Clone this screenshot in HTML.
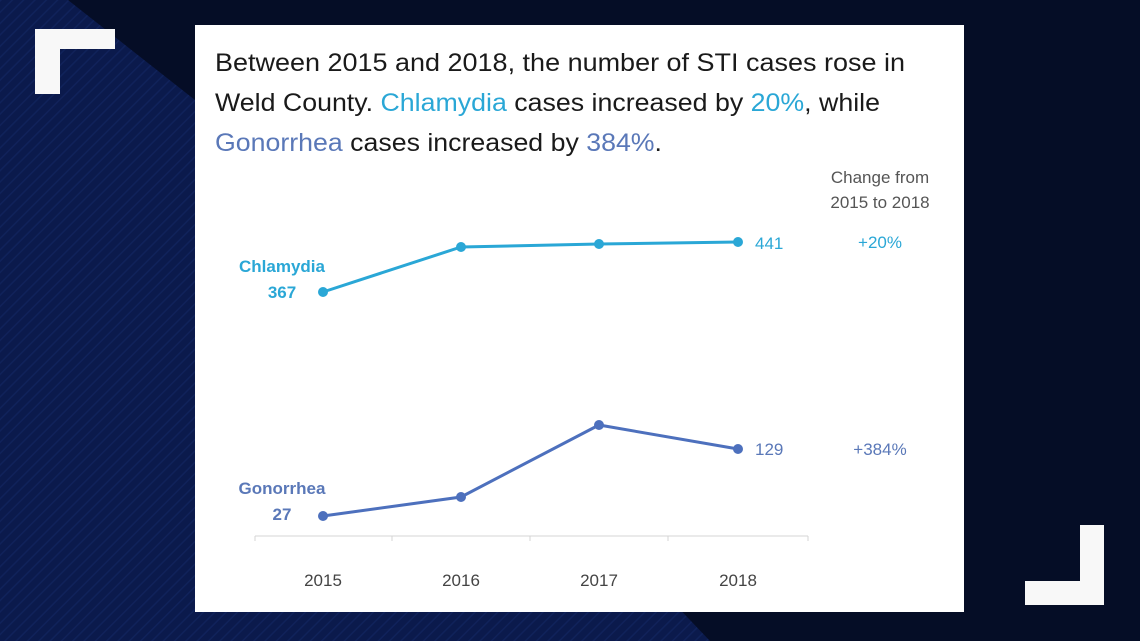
<!DOCTYPE html>
<html><head><meta charset="utf-8"><style>
html,body{margin:0;padding:0;width:1140px;height:641px;overflow:hidden;background:#050d26;}
</style></head><body>
<svg width="1140" height="641" viewBox="0 0 1140 641" xmlns="http://www.w3.org/2000/svg" style="display:block">
<defs>
<pattern id="st" width="8" height="8" patternUnits="userSpaceOnUse" patternTransform="rotate(45)">
<rect width="8" height="8" fill="#0b1a4c"/><rect width="1.5" height="8" fill="#10225a"/>
</pattern>
</defs>
<rect width="1140" height="641" fill="#050d26"/>
<polygon points="0,0 68,0 195,100 710,641 0,641" fill="url(#st)"/>
<polygon points="35,29 115,29 115,49 60,49 60,94 35,94" fill="#f8f8f8"/>
<polygon points="1080,525 1104,525 1104,605 1025,605 1025,581 1080,581" fill="#f8f8f8"/>
<rect x="195" y="25" width="769" height="587" fill="#fff"/>
<g font-family="'Liberation Sans',sans-serif" font-size="25" fill="#1a1a1a" lengthAdjust="spacingAndGlyphs">
<text x="215" y="71" textLength="690" lengthAdjust="spacingAndGlyphs">Between 2015 and 2018, the number of STI cases rose in</text>
<text x="215" y="111" textLength="665" lengthAdjust="spacingAndGlyphs">Weld County. <tspan fill="#2aa7d6">Chlamydia</tspan> cases increased by <tspan fill="#2aa7d6">20%</tspan>, while</text>
<text x="215" y="151" textLength="447" lengthAdjust="spacingAndGlyphs"><tspan fill="#5a78b8">Gonorrhea</tspan> cases increased by <tspan fill="#5a78b8">384%</tspan>.</text>
</g>
<g font-family="'Liberation Sans',sans-serif" font-size="17">
<text x="880" y="183" text-anchor="middle" fill="#555">Change from</text>
<text x="880" y="208" text-anchor="middle" fill="#555">2015 to 2018</text>
<text x="880" y="248" text-anchor="middle" fill="#2aa7d6">+20%</text>
<text x="880" y="455" text-anchor="middle" fill="#5a78b8">+384%</text>
<text x="282" y="272" text-anchor="middle" fill="#2aa7d6" font-weight="bold">Chlamydia</text>
<text x="282" y="298" text-anchor="middle" fill="#2aa7d6" font-weight="bold">367</text>
<text x="282" y="494" text-anchor="middle" fill="#5a78b8" font-weight="bold">Gonorrhea</text>
<text x="282" y="520" text-anchor="middle" fill="#5a78b8" font-weight="bold">27</text>
<text x="755" y="249" fill="#2aa7d6">441</text>
<text x="755" y="455" fill="#5a78b8">129</text>
<g fill="#444" text-anchor="middle">
<text x="323" y="586">2015</text><text x="461" y="586">2016</text><text x="599" y="586">2017</text><text x="738" y="586">2018</text>
</g>
</g>
<g stroke="#d4d4d4" stroke-width="1">
<line x1="255" y1="536" x2="808" y2="536"/>
<line x1="255" y1="536" x2="255" y2="541"/><line x1="392" y1="536" x2="392" y2="541"/>
<line x1="530" y1="536" x2="530" y2="541"/><line x1="668" y1="536" x2="668" y2="541"/>
<line x1="808" y1="536" x2="808" y2="541"/>
</g>
<polyline points="323,292 461,247 599,244 738,242" fill="none" stroke="#2aa7d6" stroke-width="3"/>
<g fill="#2aa7d6"><circle cx="323" cy="292" r="5"/><circle cx="461" cy="247" r="5"/><circle cx="599" cy="244" r="5"/><circle cx="738" cy="242" r="5"/></g>
<polyline points="323,516 461,497 599,425 738,449" fill="none" stroke="#4d70bd" stroke-width="3"/>
<g fill="#4d70bd"><circle cx="323" cy="516" r="5"/><circle cx="461" cy="497" r="5"/><circle cx="599" cy="425" r="5"/><circle cx="738" cy="449" r="5"/></g>
</svg>
</body></html>
